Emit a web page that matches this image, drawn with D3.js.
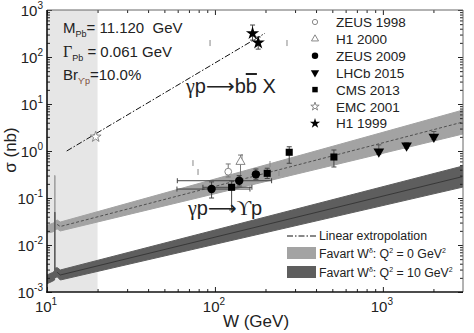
<!DOCTYPE html>
<html>
<head>
<meta charset="utf-8">
<script src="https://cdn.jsdelivr.net/npm/d3@7"></script>
<style>
  body { margin: 0; background: #fff; }
  svg { display: block; font-family: Arial, "Liberation Sans", sans-serif; }
</style>
</head>
<body>
<svg id="chart" width="474" height="333"></svg>
<script>
// ---- axis ticks ----
const xMajor = [10, 100, 1000];
const xExp = ["1", "2", "3"];
const yMajor = [1e-3, 1e-2, 1e-1, 1, 10, 100, 1000];
const yExp = ["-3", "-2", "-1", "0", "1", "2", "3"];

// ---- shaded low-energy region (W in GeV) ----
const shadedW = [10, 20];

// ---- Favart W^delta model bands (sigma in nb), with the resonance at M = 11.12 GeV ----
const bandW  = [10, 10.8, 11.1, 11.12, 11.14, 11.5, 12, 3000];
const q0Lo   = [0.018, 0.019, 0.020, 0.30, 0.021, 0.022, 0.0199, 2.30];
const q0Hi   = [0.026, 0.029, 0.030, 0.30, 0.032, 0.034, 0.0308, 7.45];
const q10Lo  = [0.0015, 0.0017, 0.0018, 0.05, 0.0020, 0.0021, 0.0018, 0.171];
const q10Hi  = [0.0023, 0.0026, 0.0028, 0.05, 0.0032, 0.0033, 0.00294, 0.48];

// ---- linear extrapolation for gamma p -> b bbar X ----
const linW = [13.1, 198.6];
const linS = [1.0, 320];

// ---- measurements: W, sigma, sigma low/high, W low/high ----
const zeus1998 = [{ w: 120, s: 0.363, sl: 0.28, sh: 0.53 }];
const h12000   = [{ w: 142, s: 0.59, sl: 0.24, sh: 0.82 }];
const zeus2009 = [
  { w: 95.5,  s: 0.155, sl: 0.10, sh: 0.22, wl: 59.4, wh: 161.6 },
  { w: 139.5, s: 0.233, sl: 0.18, sh: 0.30, wl: 59.7, wh: 217.5 },
  { w: 175.4, s: 0.319, sl: 0.25, sh: 0.414 }
];
const lhcb2015 = [
  { w: 946,  s: 0.97, sl: 0.85, sh: 1.35 },
  { w: 1384, s: 1.30, sl: 1.15, sh: 1.50 },
  { w: 2012, s: 2.01, sl: 1.75, sh: 2.60 }
];
const cms2013 = [
  { w: 125.7, s: 0.169, sl: 0.0556, sh: 0.23, wl: 84.8, wh: 166 },
  { w: 204.8, s: 0.335, sl: 0.26, sh: 0.43 },
  { w: 276.9, s: 0.94, sl: 0.548, sh: 1.23 },
  { w: 511,   s: 0.745, sl: 0.457, sh: 1.05 }
];
const emc2001 = [{ w: 19.5, s: 2.0 }];
const h11999 = [
  { w: 167.5, s: 319, sl: 229, sh: 479 },
  { w: 181,   s: 201, sl: 147, sh: 266 }
];
// faint partial error bars
const faintBars = [
  { w: 93.5,  sl: 171,  sh: 230 },
  { w: 268.6, sl: 171,  sh: 230 },
  { w: 144.9, sl: 0.644, sh: 0.863 },
  { w: 74.0,  sl: 0.48, sh: 0.64 },
  { w: 79.3,  sl: 0.309, sh: 0.414 },
  { w: 212.8, sl: 0.457, sh: 0.613 },
  { w: 240.6, sl: 0.294, sh: 0.375 }
];

// ---- legends ----
const legendNames = ["ZEUS 1998", "H1 2000", "ZEUS 2009", "LHCb 2015", "CMS 2013", "EMC 2001", "H1 1999"];

const svg = d3.select("#chart");
const L = 47, R = 463, T = 10, B = 292;
const x = d3.scaleLog().domain([10, 3000]).range([L, R]);
const y = d3.scaleLog().domain([1e-3, 1e3]).range([B, T]);

svg.append("defs").append("clipPath").attr("id", "plotclip")
  .append("rect").attr("x", L).attr("y", T).attr("width", R - L).attr("height", B - T);
const plot = svg.append("g").attr("clip-path", "url(#plotclip)");

// shaded region
plot.append("rect")
  .attr("x", x(shadedW[0])).attr("y", T)
  .attr("width", x(shadedW[1]) - x(shadedW[0])).attr("height", B - T)
  .attr("fill", "#e6e6e6");

// bands
function drawBand(lo, hi, fill, lineColor, dash) {
  const pts = bandW.map((w, i) => ({ w, lo: lo[i], hi: hi[i] }));
  plot.append("path").datum(pts)
    .attr("d", d3.area().x(d => x(d.w)).y0(d => y(d.lo)).y1(d => y(d.hi)))
    .attr("fill", fill).attr("stroke", fill).attr("stroke-width", 1);
  const mid = pts.filter(d => d.lo !== d.hi && d.w >= 11.5);
  plot.append("path").datum(mid)
    .attr("d", d3.line().x(d => x(d.w)).y(d => y(Math.sqrt(d.lo * d.hi))))
    .attr("fill", "none").attr("stroke", lineColor).attr("stroke-width", 0.8)
    .attr("stroke-dasharray", dash);
}
drawBand(q0Lo, q0Hi, "#a3a3a3", "#3a3a3a", "3,2");
drawBand(q10Lo, q10Hi, "#5e5e5e", "#2e2e2e", null);

// linear extrapolation
plot.append("path").datum(linW.map((w, i) => ({ w, s: linS[i] })))
  .attr("d", d3.line().x(d => x(d.w)).y(d => y(d.s)))
  .attr("fill", "none").attr("stroke", "#111").attr("stroke-width", 1)
  .attr("stroke-dasharray", "6,2,1.5,2");

// faint bars
plot.selectAll(".faint").data(faintBars).enter().append("line")
  .attr("x1", d => x(d.w)).attr("x2", d => x(d.w))
  .attr("y1", d => y(d.sl)).attr("y2", d => y(d.sh))
  .attr("stroke", "#888").attr("stroke-width", 1);

// error bars
function errorBars(data, color) {
  const g = plot.append("g").attr("stroke", color).attr("stroke-width", 1).attr("fill", "none");
  data.forEach(d => {
    if (d.sl !== undefined) {
      g.append("line").attr("x1", x(d.w)).attr("x2", x(d.w)).attr("y1", y(d.sl)).attr("y2", y(d.sh));
      g.append("line").attr("x1", x(d.w) - 2.5).attr("x2", x(d.w) + 2.5).attr("y1", y(d.sh)).attr("y2", y(d.sh));
      g.append("line").attr("x1", x(d.w) - 2.5).attr("x2", x(d.w) + 2.5).attr("y1", y(d.sl)).attr("y2", y(d.sl));
    }
    if (d.wl !== undefined) {
      g.append("line").attr("x1", x(d.wl)).attr("x2", x(d.wh)).attr("y1", y(d.s)).attr("y2", y(d.s));
      g.append("line").attr("x1", x(d.wl)).attr("x2", x(d.wl)).attr("y1", y(d.s) - 2.5).attr("y2", y(d.s) + 2.5);
      g.append("line").attr("x1", x(d.wh)).attr("x2", x(d.wh)).attr("y1", y(d.s) - 2.5).attr("y2", y(d.s) + 2.5);
    }
  });
}
errorBars(zeus1998, "#777");
errorBars(h12000, "#777");
errorBars(zeus2009, "#444");
errorBars(cms2013, "#444");
errorBars(lhcb2015, "#555");
errorBars(h11999, "#444");

// marker styles per series
const styles = [
  { type: d3.symbolCircle,   size: 36, fill: "#fff", stroke: "#888", rot: 0 },
  { type: d3.symbolTriangle, size: 36, fill: "#fff", stroke: "#888", rot: 0 },
  { type: d3.symbolCircle,   size: 55, fill: "#000", stroke: "none", rot: 0 },
  { type: d3.symbolTriangle, size: 50, fill: "#000", stroke: "none", rot: 180 },
  { type: d3.symbolSquare,   size: 50, fill: "#000", stroke: "none", rot: 0 },
  { type: d3.symbolStar,     size: 36, fill: "#fff", stroke: "#888", rot: 0 },
  { type: d3.symbolStar,     size: 55, fill: "#000", stroke: "none", rot: 0 }
];
const seriesData = [zeus1998, h12000, zeus2009, lhcb2015, cms2013, emc2001, h11999];

seriesData.forEach((data, i) => {
  const st = styles[i];
  plot.selectAll(null).data(data).enter().append("path")
    .attr("d", d3.symbol().type(st.type).size(st.size))
    .attr("transform", d => `translate(${x(d.w)},${y(d.s)}) rotate(${st.rot})`)
    .attr("fill", st.fill).attr("stroke", st.stroke).attr("stroke-width", 1);
});

// ---- axes with inward ticks ----
const xMinor = [];
[10, 100, 1000].forEach(b => { for (let k = 2; k <= 9; k++) if (b * k < 3000) xMinor.push(b * k); });
const yMinor = [];
[1e-3, 1e-2, 1e-1, 1, 10, 100].forEach(b => { for (let k = 2; k <= 9; k++) yMinor.push(b * k); });

function addAxis(axisFn, scale, vals, size, tr) {
  const g = svg.append("g").attr("transform", tr)
    .call(axisFn(scale).tickValues(vals).tickSize(-size).tickFormat(""));
  g.select(".domain").remove();
  g.selectAll(".tick line").attr("stroke", "#222").attr("stroke-width", 1);
}
addAxis(d3.axisBottom, x, xMajor, 5, `translate(0,${B})`);
addAxis(d3.axisBottom, x, xMinor, 3, `translate(0,${B})`);
addAxis(d3.axisTop, x, xMajor, 5, `translate(0,${T})`);
addAxis(d3.axisTop, x, xMinor, 3, `translate(0,${T})`);
addAxis(d3.axisLeft, y, yMajor, 5, `translate(${L},0)`);
addAxis(d3.axisLeft, y, yMinor, 3, `translate(${L},0)`);
addAxis(d3.axisRight, y, yMajor, 5, `translate(${R},0)`);
addAxis(d3.axisRight, y, yMinor, 3, `translate(${R},0)`);

// frame
svg.append("line").attr("x1", L).attr("x2", R).attr("y1", T).attr("y2", T).attr("stroke", "#666").attr("stroke-width", 1);
svg.append("line").attr("x1", R).attr("x2", R).attr("y1", T).attr("y2", B).attr("stroke", "#666").attr("stroke-width", 1);
svg.append("line").attr("x1", L).attr("x2", L).attr("y1", T).attr("y2", B + 0.75).attr("stroke", "#111").attr("stroke-width", 1.6);
svg.append("line").attr("x1", L - 0.75).attr("x2", R).attr("y1", B).attr("y2", B).attr("stroke", "#111").attr("stroke-width", 1.6);

// tick labels with powers of ten
xMajor.forEach((v, i) => {
  const t = svg.append("text").attr("x", x(v) - 1).attr("y", 312)
    .attr("text-anchor", "middle").attr("font-size", 15).attr("fill", "#222");
  t.append("tspan").text("10");
  t.append("tspan").attr("dy", -7).attr("font-size", 10).text(xExp[i]);
});
yMajor.forEach((v, i) => {
  const t = svg.append("text").attr("x", 43).attr("y", y(v) + 6)
    .attr("text-anchor", "end").attr("font-size", 15).attr("fill", "#222");
  t.append("tspan").text("10");
  t.append("tspan").attr("dy", -7).attr("font-size", 10).text(yExp[i]);
});

// axis titles
svg.append("text").attr("x", 256).attr("y", 327).attr("text-anchor", "middle")
  .attr("font-size", 17).attr("fill", "#222").text("W (GeV)");
svg.append("text").attr("transform", "translate(16,150) rotate(-90)").attr("text-anchor", "middle")
  .attr("font-size", 17).attr("fill", "#222").text("σ (nb)");

// resonance parameters
const params = svg.append("g").attr("font-size", 15).attr("fill", "#222");
let t1 = params.append("text").attr("x", 63).attr("y", 33).style("white-space", "pre");
t1.append("tspan").text("M");
t1.append("tspan").attr("dy", 4).attr("font-size", 9).text("Pb");
t1.append("tspan").attr("dy", -4).text("= 11.120  GeV");
let t2 = params.append("text").attr("x", 63).attr("y", 57).style("white-space", "pre");
t2.append("tspan").attr("font-family", "'Liberation Serif', serif").attr("font-size", 16).text("Γ");
t2.append("tspan").attr("dy", 4).attr("font-size", 9).text("Pb");
t2.append("tspan").attr("dy", -4).text(" = 0.061 GeV");
let t3 = params.append("text").attr("x", 63).attr("y", 80);
t3.append("tspan").text("Br");
t3.append("tspan").attr("dy", 4).attr("font-size", 9).attr("fill", "#7a4a38").text("ϒp");
t3.append("tspan").attr("dy", -4).text("=10.0%");

// process labels
const p1 = svg.append("text").attr("x", 186).attr("y", 93).attr("font-size", 20).attr("fill", "#222");
p1.append("tspan").attr("font-family", "'Liberation Serif', serif").text("γ");
p1.append("tspan").text("p");
p1.append("tspan").attr("font-family", "'DejaVu Sans', sans-serif").text("⟶");
p1.append("tspan").text("b");
p1.append("tspan").style("text-decoration", "overline").text("b");
p1.append("tspan").text(" X");
const p2 = svg.append("text").attr("x", 188).attr("y", 215).attr("font-size", 20).attr("fill", "#222");
p2.append("tspan").attr("font-family", "'Liberation Serif', serif").text("γ");
p2.append("tspan").text("p");
p2.append("tspan").attr("font-family", "'DejaVu Sans', sans-serif").text("⟶");
p2.append("tspan").attr("font-family", "'Liberation Serif', serif").text("ϒ");
p2.append("tspan").text("p");

// data legend
const lg = svg.append("g");
legendNames.forEach((name, i) => {
  const cy = 22 + i * 16.9;
  const st = styles[i];
  lg.append("path").attr("d", d3.symbol().type(st.type).size(st.size * 0.6))
    .attr("transform", `translate(315,${cy}) rotate(${st.rot})`)
    .attr("fill", st.fill).attr("stroke", st.stroke).attr("stroke-width", 1);
  lg.append("text").attr("x", 336).attr("y", cy + 5).attr("font-size", 13.5).attr("fill", "#222").text(name);
});

// model legend
const ml = svg.append("g").attr("font-size", 12.3).attr("fill", "#222");
ml.append("line").attr("x1", 287).attr("x2", 317).attr("y1", 236).attr("y2", 236)
  .attr("stroke", "#111").attr("stroke-width", 1).attr("stroke-dasharray", "6,2,1.5,2");
ml.append("text").attr("x", 319).attr("y", 240).text("Linear extropolation");
ml.append("rect").attr("x", 287).attr("y", 247).attr("width", 29).attr("height", 12).attr("fill", "#a3a3a3");
let m2 = ml.append("text").attr("x", 319).attr("y", 258);
m2.append("tspan").text("Favart W");
m2.append("tspan").attr("dy", -5).attr("font-size", 7).text("δ");
m2.append("tspan").attr("dy", 5).text(": Q");
m2.append("tspan").attr("dy", -5).attr("font-size", 7).text("2");
m2.append("tspan").attr("dy", 5).text(" = 0 GeV");
m2.append("tspan").attr("dy", -5).attr("font-size", 7).text("2");
ml.append("rect").attr("x", 287).attr("y", 266).attr("width", 29).attr("height", 12).attr("fill", "#5e5e5e");
let m3 = ml.append("text").attr("x", 319).attr("y", 277);
m3.append("tspan").text("Favart W");
m3.append("tspan").attr("dy", -5).attr("font-size", 7).text("δ");
m3.append("tspan").attr("dy", 5).text(": Q");
m3.append("tspan").attr("dy", -5).attr("font-size", 7).text("2");
m3.append("tspan").attr("dy", 5).text(" = 10 GeV");
m3.append("tspan").attr("dy", -5).attr("font-size", 7).text("2");
</script>
</body>
</html>
